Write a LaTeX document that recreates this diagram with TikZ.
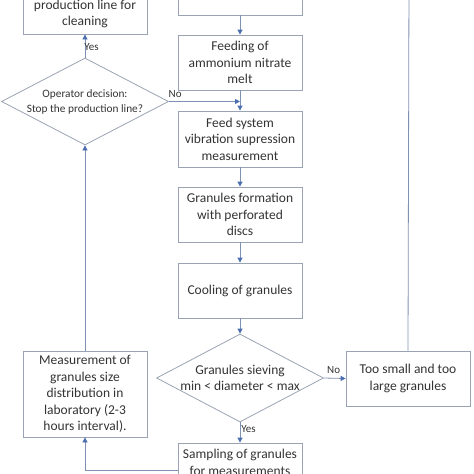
\documentclass[tikz,border=0pt]{standalone}
\usepackage{fontspec}
\setmainfont{Carlito}
\usetikzlibrary{arrows.meta,shapes.geometric,calc}
\definecolor{boxgray}{HTML}{9AA3B3}
\definecolor{linecol}{HTML}{7F90B2}
\definecolor{tipcol}{HTML}{4A6EB0}
\definecolor{txt}{HTML}{333333}
\begin{document}
\begin{tikzpicture}[x=1pt,y=-1pt,
  box/.style={draw=boxgray, line width=0.8pt, rectangle, minimum width=124pt, minimum height=55pt, inner sep=2pt, align=center, text=txt, font=\fontsize{13.5}{16.5}\selectfont},
  dec/.style={draw=boxgray, line width=0.8pt, diamond, aspect=1.9, inner sep=0pt, align=center, text=txt},
  conn/.style={draw=linecol, line width=0.8pt},
  arr/.style={conn, -{Triangle[width=5pt,length=5pt,fill=tipcol,color=tipcol]}},
  lbl/.style={text=txt, font=\fontsize{11}{13}\selectfont, inner sep=1pt}]
\useasboundingbox (0,0) rectangle (474,474);
\begin{scope}
\clip (0,0) rectangle (474,474);
\node[box, minimum height=40pt] (clean) at (85,14) {production line for\\cleaning};
\node[box] (top) at (240,-12.5) {};
\node[box] (feed) at (240,62.5) {Feeding of\\ammonium nitrate\\melt};
\node[box, minimum height=56pt] (vib) at (240,139) {Feed system\\vibration supression\\measurement};
\node[box] (gran) at (240,214.5) {Granules formation\\with perforated\\discs};
\node[box] (cool) at (240,290.5) {Cooling of granules};
\node[dec, minimum width=167pt, minimum height=88pt, font=\fontsize{13.5}{15.5}\selectfont] (sieve) at (240,378) {Granules sieving\\min < diameter < max};
\node[box] (small) at (408,378.5) {Too small and too\\large granules};
\node[box] (samp) at (240,470.5) {Sampling of granules\\for measurements\\\mbox{}};
\node[box, minimum height=86pt] (meas) at (85,394) {Measurement of\\granules size\\distribution in\\laboratory (2-3\\hours interval).};
\node[dec, minimum width=167pt, minimum height=87pt, font=\fontsize{11.3}{15}\selectfont] (oper) at (85,101.5) {Operator decision:\\Stop the production line?};
\coordinate (loopend) at (409,-20);

\draw[arr] (top.south) -- (feed.north);
\draw[arr] (feed.south) -- (vib.north);
\draw[arr] (vib.south) -- (gran.north);
\draw[arr] (gran.south) -- (cool.north);
\draw[arr] (cool.south) -- (sieve.north);
\draw[arr] (sieve.east) -- node[lbl, above, pos=0.45, yshift=3pt] {No} (small.west);
\draw[arr] (sieve.south) -- node[lbl, right, pos=0.35] {Yes} (samp.north);
\draw[arr] (samp.west) -| (meas.south);
\draw[arr] (meas.north) -- (oper.south);
\draw[arr] (oper.north) -- node[lbl, right, pos=0.45, xshift=-2pt] {Yes} (clean.south);
\draw[arr] (oper.east) -- node[lbl, above, pos=0.06, xshift=2pt, yshift=3pt] {No} (oper.east -| feed.south);
\draw[conn] (small.north) -- (loopend);
\end{scope}
\end{tikzpicture}
\end{document}
